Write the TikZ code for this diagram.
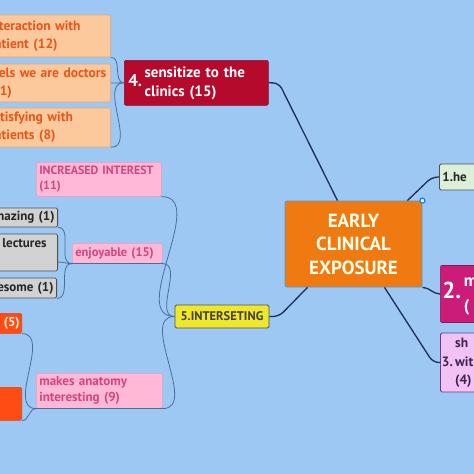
\documentclass[tikz,border=0pt]{standalone}
\usepackage{fontspec}
\setmainfont{PT Sans}

\definecolor{fond}{HTML}{9DC8F3}
\definecolor{peche}{HTML}{FBC99B}
\definecolor{pechebord}{HTML}{E3A674}
\definecolor{pechetxt}{HTML}{E8561C}
\definecolor{rose}{HTML}{FFB9D6}
\definecolor{rosebord}{HTML}{E79BBE}
\definecolor{rosetxt}{HTML}{D2457F}
\definecolor{gris}{HTML}{D2D2D2}
\definecolor{grisbord}{HTML}{505050}
\definecolor{cramoisi}{HTML}{B50A2C}
\definecolor{orange}{HTML}{F07A12}
\definecolor{jaune}{HTML}{EEE72C}
\definecolor{vertpale}{HTML}{DCEFD8}
\definecolor{magenta}{HTML}{CC1C7A}
\definecolor{mauve}{HTML}{F2C2F4}
\definecolor{violet}{HTML}{6A3A8C}
\definecolor{vif}{HTML}{FF4C12}
\definecolor{marine}{HTML}{1C2D55}
\definecolor{acier}{HTML}{4A6E9C}

\begin{document}
\begin{tikzpicture}[x=1pt,y=-1pt,
  boite/.style={rectangle,rounded corners=1.5pt,inner xsep=3pt,inner ysep=1pt,line width=0.6pt},
  peche/.style={boite,fill=peche,draw=pechebord,text=pechetxt,font=\bfseries\fontsize{13.5}{18}\selectfont,text width=120pt,align=left},
  rose/.style={boite,fill=rose,draw=rosebord,text=rosetxt,font=\bfseries\fontsize{12}{15}\selectfont,align=left},
  gris/.style={boite,fill=gris,draw=grisbord,line width=0.8pt,text=black!85,font=\bfseries\fontsize{13}{15}\selectfont},
  vif/.style={boite,fill=vif,draw=vif!90!black,text=white!90!orange,font=\bfseries\fontsize{13}{15}\selectfont},
  tronc/.style={draw=marine,line width=1.3pt,rounded corners=6pt},
  branche/.style={draw=acier,line width=0.8pt}]

\useasboundingbox (0,0) rectangle (474,474);
\clip (0,0) rectangle (474,474);
\fill[fond] (0,0) rectangle (474,474);

% noeud central

\node[boite,fill=orange,draw=cyan!60!blue!70,line width=0.8pt,minimum width=137pt,minimum height=86pt,
  text=white!92!yellow,font=\bfseries\fontsize{19}{23.5}\selectfont,align=center] (ctr) at (353.5,244)
  {EARLY\\CLINICAL\\EXPOSURE};
\node[circle,draw=blue!50!cyan,fill=white,line width=1.2pt,inner sep=0pt,minimum size=5pt] (poignee) at (ctr.north east) {};

% branches principales

\node[boite,fill=cramoisi,draw=cramoisi!80!black,text=white,inner xsep=4pt,text width=136pt,minimum height=45pt,
  anchor=north west,font=\bfseries\fontsize{15}{19}\selectfont,align=left] (sens) at (124,60)
  {{\fontsize{17}{17}\selectfont 4.}\,\begin{tabular}[c]{@{}l@{}}sensitize to the\\clinics (15)\end{tabular}};
\node[boite,fill=jaune,draw=grisbord,line width=0.9pt,minimum width=94pt,minimum height=23pt,
  text=black!85!yellow,font=\bfseries\fontsize{12.5}{13}\selectfont] (ints) at (222,316.5) {5.INTERSETING};
\node[boite,fill=vertpale,draw=grisbord,line width=0.9pt,anchor=west,text width=80pt,minimum height=26pt,
  text=black!85,font=\bfseries\fontsize{13}{14}\selectfont,align=left] (un) at (439,177) {1.he};
\node[boite,fill=magenta,draw=magenta!70!black,anchor=west,inner xsep=2pt,text width=80pt,minimum height=57pt,
  text=white,font=\bfseries\fontsize{17}{25}\selectfont,align=left] (deux) at (440,294)
  {{\fontsize{23}{23}\selectfont 2.}\,\begin{tabular}[c]{@{}l@{}}m\\(\end{tabular}};
\node[boite,fill=mauve,draw=violet,line width=0.9pt,anchor=west,inner xsep=1.5pt,text width=80pt,minimum height=59pt,
  text=violet!60!black,font=\bfseries\fontsize{13.5}{18.5}\selectfont,align=left] (trois) at (440,362.5)
  {3.\,\begin{tabular}[c]{@{}l@{}}sh\\wit\\(4)\end{tabular}};

\coordinate (k4) at (279,83) ;
\coordinate (k1) at (432,177) ;
\coordinate (k3) at (433,362.5) ;
\coordinate (k5) at (279,316.5) ;

\draw[tronc] ([xshift=-16pt]ctr.north) -- (k4) -- (sens.east) ;
\draw[tronc] ([xshift=-15pt]ctr.north east) -- (k1) -- (un.west) ;
\draw[tronc] ([xshift=31pt]ctr.south) -- (k3) -- (trois.west) ;
\draw[tronc] ([xshift=-46pt]ctr.south) -- (k5) -- (ints.east) ;
\draw[tronc] (ctr.south east) to[out=0,in=180] (deux.west) ;

% sous-branches 4

\node[peche,anchor=east,minimum height=42pt] (pA) at (111,36) {Interaction with\\patient (12)};
\node[peche,anchor=east,minimum height=38pt] (pB) at (111,83) {feels we are doctors\\(11)};
\node[peche,anchor=east,minimum height=39pt] (pC) at (111,127.5) {satisfying with\\patients (8)};

\draw[branche] (sens.west) to[out=180,in=0] (pA.south east) ;
\draw[branche] (sens.west) to[out=180,in=0] (pB.east) ;
\draw[branche] (sens.west) to[out=180,in=0] (pC.south east) ;

% sous-branches 5

\node[rose,anchor=north west,text width=119pt,minimum height=34pt] (incr) at (36,162) {INCREASED INTEREST\\(11)};
\node[rose,anchor=north west,text width=84pt,minimum height=20pt,font=\bfseries\fontsize{12.5}{14}\selectfont] (enjoy) at (72,243) {enjoyable (15)};
\node[rose,anchor=north west,text width=120pt,minimum height=35pt,font=\bfseries\fontsize{13}{16}\selectfont] (anat) at (36,373) {makes anatomy\\interesting (9)};

\draw[branche] (ints.west) to[out=180,in=0] (incr.south east) ;
\draw[branche] (ints.west) to[out=180,in=0] (enjoy.south east) ;
\draw[branche] (ints.west) to[out=180,in=0] (anat.south east) ;
\draw[branche] (enjoy.south west) -- (enjoy.south east) ;
\draw[branche] (anat.south west) -- (anat.south east) ;

% feuilles grises

\node[gris,anchor=east,text width=86pt,minimum height=19pt,align=right] (amaz) at (58,217.5) {amazing (1)};
\node[gris,anchor=east,text width=70pt,minimum width=92pt,minimum height=37pt,align=right] (lect) at (58,252.5) {lectures\\\strut};
\node[gris,anchor=east,text width=86pt,minimum height=20pt,align=right] (awes) at (57,288) {awesome (1)};

\draw[branche] (enjoy.south west) to[out=180,in=0] (amaz.south east) ;
\draw[branche] (enjoy.south west) to[out=180,in=0] ([yshift=-9.5pt]lect.east) ;
\draw[branche] (enjoy.south west) to[out=180,in=0] (awes.south east) ;

% feuilles orange

\node[vif,anchor=north east,text width=38pt,inner xsep=2pt,minimum height=20pt,align=right] (cinq) at (22,313) {(5)};
\node[vif,anchor=north east,minimum width=42pt,minimum height=33pt] (vide) at (22,387) {};

\draw[branche] (anat.south west) to[out=180,in=0] (cinq.south east) ;
\draw[branche] (anat.south west) to[out=180,in=0] (vide.south east) ;

\end{tikzpicture}
\end{document}
